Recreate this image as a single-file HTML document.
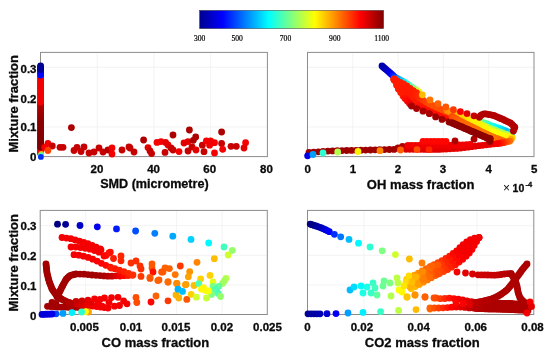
<!DOCTYPE html>
<html>
<head>
<meta charset="utf-8">
<title>Scatter plots</title>
<style>
html,body{margin:0;padding:0;background:#fff;}
body{width:550px;height:354px;overflow:hidden;}
svg{display:block;filter:blur(0.55px);}
text{font-family:"Liberation Sans",Arial,sans-serif;font-weight:bold;fill:#0a0a0a;stroke:#0a0a0a;stroke-width:0.3px;}
.tk{font-size:11.5px;}
.lb{font-size:13px;}
.cb{font-family:"Liberation Serif","Times New Roman",serif;font-weight:normal;font-size:7.6px;fill:#000;stroke:#000;stroke-width:0.2px;}
.ax{fill:none;stroke:#8c8c8c;stroke-width:1;}
.gr{stroke:#f0f0f0;stroke-width:0.8;fill:none;}
</style>
</head>
<body>
<svg width="550" height="354" viewBox="0 0 550 354">
<defs>
<linearGradient id="jet" x1="0" y1="0" x2="1" y2="0">
<stop offset="0" stop-color="#00008f"/>
<stop offset="0.125" stop-color="#0000ff"/>
<stop offset="0.375" stop-color="#00ffff"/>
<stop offset="0.5" stop-color="#80ff80"/>
<stop offset="0.625" stop-color="#ffff00"/>
<stop offset="0.875" stop-color="#ff0000"/>
<stop offset="1" stop-color="#800000"/>
</linearGradient>
</defs>
<rect x="0" y="0" width="550" height="354" fill="#ffffff"/>
<!-- colorbar -->
<rect x="199.6" y="10.4" width="184" height="18.2" fill="url(#jet)" stroke="#333" stroke-width="0.5"/>
<text class="cb" x="199.7" y="40.8" text-anchor="middle">300</text>
<text class="cb" x="237.2" y="40.8" text-anchor="middle">500</text>
<text class="cb" x="285.5" y="40.8" text-anchor="middle">700</text>
<text class="cb" x="334.8" y="40.8" text-anchor="middle">900</text>
<text class="cb" x="381.7" y="40.8" text-anchor="middle">1100</text>

<!-- grids -->
<g class="gr">
<path d="M97.3 52.4V156.6M154 52.4V156.6M210.6 52.4V156.6M40.5 67.3H267.4M40.5 126.9H267.4"/>
<path d="M352.8 52.4V156.6M398.1 52.4V156.6M443.4 52.4V156.6M488.7 52.4V156.6M307.5 67.3H534M307.5 126.9H534"/>
<path d="M85.6 210V314.5M131.1 210V314.5M176.6 210V314.5M222.1 210V314.5M40.2 225.7H267.4M40.2 255.3H267.4M40.2 284.9H267.4"/>
<path d="M364 210V314.5M420.5 210V314.5M477 210V314.5M307.5 225.7H533.6M307.5 255.3H533.6M307.5 284.9H533.6"/>
</g>
<!-- axes -->
<rect class="ax" x="40.5" y="52.4" width="226.9" height="104.2"/>
<rect class="ax" x="307.5" y="52.4" width="226.5" height="104.2"/>
<rect class="ax" x="40.2" y="210.4" width="227.1" height="104.1"/>
<rect class="ax" x="307.5" y="210.4" width="226.3" height="104.1"/>

<!-- dots -->
<g>
<circle cx="47.9" cy="143.5" r="3.4" fill="#f50000"/>
<circle cx="52.3" cy="146.0" r="3.4" fill="#c70000"/>
<circle cx="60.0" cy="147.3" r="3.4" fill="#c70000"/>
<circle cx="63.0" cy="147.3" r="3.4" fill="#c70000"/>
<circle cx="71.4" cy="127.6" r="3.4" fill="#ad0000"/>
<circle cx="74.0" cy="150.5" r="3.4" fill="#c70000"/>
<circle cx="77.0" cy="147.3" r="3.4" fill="#c70000"/>
<circle cx="81.0" cy="151.5" r="3.4" fill="#c70000"/>
<circle cx="84.0" cy="147.0" r="3.4" fill="#c70000"/>
<circle cx="89.0" cy="153.0" r="3.4" fill="#c70000"/>
<circle cx="94.0" cy="152.0" r="3.4" fill="#c70000"/>
<circle cx="99.0" cy="148.0" r="3.4" fill="#c70000"/>
<circle cx="103.0" cy="152.0" r="3.4" fill="#c70000"/>
<circle cx="108.0" cy="150.0" r="3.4" fill="#b30000"/>
<circle cx="112.0" cy="148.0" r="3.4" fill="#f50000"/>
<circle cx="112.0" cy="154.0" r="3.4" fill="#f50000"/>
<circle cx="122.0" cy="150.0" r="3.4" fill="#c70000"/>
<circle cx="129.0" cy="147.0" r="3.4" fill="#c70000"/>
<circle cx="134.0" cy="152.0" r="3.4" fill="#c70000"/>
<circle cx="130.0" cy="148.0" r="3.4" fill="#c70000"/>
<circle cx="143.6" cy="140.0" r="3.4" fill="#ad0000"/>
<circle cx="148.0" cy="147.6" r="3.4" fill="#e50000"/>
<circle cx="150.0" cy="151.0" r="3.4" fill="#c70000"/>
<circle cx="151.6" cy="153.6" r="3.4" fill="#c70000"/>
<circle cx="157.0" cy="142.4" r="3.4" fill="#f50000"/>
<circle cx="161.0" cy="141.6" r="3.4" fill="#f50000"/>
<circle cx="165.6" cy="142.4" r="3.4" fill="#e50000"/>
<circle cx="168.0" cy="145.0" r="3.4" fill="#e50000"/>
<circle cx="165.0" cy="152.4" r="3.4" fill="#c70000"/>
<circle cx="173.0" cy="150.0" r="3.4" fill="#c70000"/>
<circle cx="171.0" cy="148.0" r="3.4" fill="#c70000"/>
<circle cx="173.0" cy="135.0" r="3.4" fill="#ad0000"/>
<circle cx="179.0" cy="151.6" r="3.4" fill="#f50000"/>
<circle cx="184.0" cy="143.0" r="3.4" fill="#e50000"/>
<circle cx="188.0" cy="141.6" r="3.4" fill="#e50000"/>
<circle cx="189.4" cy="130.0" r="3.4" fill="#ad0000"/>
<circle cx="188.0" cy="151.0" r="3.4" fill="#c70000"/>
<circle cx="192.0" cy="147.0" r="3.4" fill="#c70000"/>
<circle cx="196.0" cy="150.0" r="3.4" fill="#e50000"/>
<circle cx="195.7" cy="137.0" r="3.4" fill="#ad0000"/>
<circle cx="193.3" cy="140.3" r="3.4" fill="#ad0000"/>
<circle cx="202.3" cy="145.2" r="3.4" fill="#c70000"/>
<circle cx="204.0" cy="151.7" r="3.4" fill="#c70000"/>
<circle cx="206.4" cy="141.0" r="3.4" fill="#f50000"/>
<circle cx="210.5" cy="141.0" r="3.4" fill="#f50000"/>
<circle cx="214.5" cy="142.7" r="3.4" fill="#f50000"/>
<circle cx="209.6" cy="145.2" r="3.4" fill="#f50000"/>
<circle cx="214.5" cy="152.9" r="3.4" fill="#f50000"/>
<circle cx="221.6" cy="132.0" r="3.4" fill="#ad0000"/>
<circle cx="221.6" cy="143.5" r="3.4" fill="#c70000"/>
<circle cx="222.7" cy="149.3" r="3.4" fill="#f50000"/>
<circle cx="231.0" cy="146.3" r="3.4" fill="#c70000"/>
<circle cx="236.3" cy="146.3" r="3.4" fill="#c70000"/>
<circle cx="245.6" cy="142.7" r="3.4" fill="#f50000"/>
<circle cx="244.0" cy="148.0" r="3.4" fill="#e50000"/>
<circle cx="40.6" cy="148.0" r="3.4" fill="#f50000"/>
<circle cx="40.6" cy="149.3" r="3.4" fill="#f50000"/>
<circle cx="40.6" cy="150.7" r="3.4" fill="#f50000"/>
<circle cx="40.6" cy="152.1" r="3.4" fill="#f50000"/>
<circle cx="40.6" cy="153.4" r="3.4" fill="#f50000"/>
<circle cx="40.6" cy="103.0" r="3.4" fill="#bd0000"/>
<circle cx="40.6" cy="104.5" r="3.4" fill="#b90000"/>
<circle cx="40.6" cy="106.0" r="3.4" fill="#b50000"/>
<circle cx="40.6" cy="107.6" r="3.4" fill="#b20000"/>
<circle cx="40.6" cy="109.1" r="3.4" fill="#ae0000"/>
<circle cx="40.6" cy="110.6" r="3.4" fill="#aa0000"/>
<circle cx="40.6" cy="112.1" r="3.4" fill="#a70000"/>
<circle cx="40.6" cy="113.6" r="3.4" fill="#a30000"/>
<circle cx="40.6" cy="115.1" r="3.4" fill="#9f0000"/>
<circle cx="40.6" cy="116.7" r="3.4" fill="#9c0000"/>
<circle cx="40.6" cy="118.2" r="3.4" fill="#980000"/>
<circle cx="40.6" cy="119.7" r="3.4" fill="#940000"/>
<circle cx="40.6" cy="121.2" r="3.4" fill="#900000"/>
<circle cx="40.6" cy="122.7" r="3.4" fill="#8d0000"/>
<circle cx="40.6" cy="124.2" r="3.4" fill="#8a0000"/>
<circle cx="40.6" cy="125.8" r="3.4" fill="#890000"/>
<circle cx="40.6" cy="127.3" r="3.4" fill="#880000"/>
<circle cx="40.6" cy="128.8" r="3.4" fill="#880000"/>
<circle cx="40.6" cy="130.3" r="3.4" fill="#870000"/>
<circle cx="40.6" cy="131.8" r="3.4" fill="#860000"/>
<circle cx="40.6" cy="133.3" r="3.4" fill="#860000"/>
<circle cx="40.6" cy="134.9" r="3.4" fill="#850000"/>
<circle cx="40.6" cy="136.4" r="3.4" fill="#840000"/>
<circle cx="40.6" cy="137.9" r="3.4" fill="#840000"/>
<circle cx="40.6" cy="139.4" r="3.4" fill="#830000"/>
<circle cx="40.6" cy="140.9" r="3.4" fill="#820000"/>
<circle cx="40.6" cy="142.4" r="3.4" fill="#820000"/>
<circle cx="40.6" cy="144.0" r="3.4" fill="#810000"/>
<circle cx="40.6" cy="145.5" r="3.4" fill="#800000"/>
<circle cx="40.6" cy="147.0" r="3.4" fill="#800000"/>
<circle cx="40.6" cy="77.0" r="3.4" fill="#f50000"/>
<circle cx="40.6" cy="78.5" r="3.4" fill="#f50000"/>
<circle cx="40.6" cy="79.9" r="3.4" fill="#f50000"/>
<circle cx="40.6" cy="81.4" r="3.4" fill="#f50000"/>
<circle cx="40.6" cy="82.9" r="3.4" fill="#f50000"/>
<circle cx="40.6" cy="84.4" r="3.4" fill="#f50000"/>
<circle cx="40.6" cy="85.8" r="3.4" fill="#f50000"/>
<circle cx="40.6" cy="87.3" r="3.4" fill="#f50000"/>
<circle cx="40.6" cy="88.8" r="3.4" fill="#f50000"/>
<circle cx="40.6" cy="90.2" r="3.4" fill="#f50000"/>
<circle cx="40.6" cy="91.7" r="3.4" fill="#f50000"/>
<circle cx="40.6" cy="93.2" r="3.4" fill="#f50000"/>
<circle cx="40.6" cy="94.6" r="3.4" fill="#f50000"/>
<circle cx="40.6" cy="96.1" r="3.4" fill="#f50000"/>
<circle cx="40.6" cy="97.6" r="3.4" fill="#f50000"/>
<circle cx="40.6" cy="99.1" r="3.4" fill="#f50000"/>
<circle cx="40.6" cy="100.5" r="3.4" fill="#f50000"/>
<circle cx="40.6" cy="102.0" r="3.4" fill="#f50000"/>
<circle cx="40.6" cy="70.5" r="3.4" fill="#0000e6"/>
<circle cx="40.6" cy="72.0" r="3.4" fill="#0000f0"/>
<circle cx="40.6" cy="73.5" r="3.4" fill="#0000fa"/>
<circle cx="40.6" cy="75.0" r="3.4" fill="#0005ff"/>
<circle cx="40.6" cy="65.8" r="3.4" fill="#000080"/>
<circle cx="40.6" cy="67.0" r="3.4" fill="#00008a"/>
<circle cx="40.6" cy="68.3" r="3.4" fill="#000094"/>
<circle cx="40.6" cy="69.5" r="3.4" fill="#00009e"/>
<circle cx="44.7" cy="147.3" r="3.4" fill="#f50000"/>
<circle cx="47.9" cy="150.5" r="3.4" fill="#ff4200"/>
<circle cx="41.3" cy="153.8" r="2.9" fill="#ffb300"/>
<circle cx="41.0" cy="155.2" r="2.9" fill="#4dffb2"/>
<circle cx="40.9" cy="156.9" r="2.9" fill="#002eff"/>
<circle cx="309.0" cy="152.5" r="3.4" fill="#9e0000"/>
<circle cx="313.7" cy="152.1" r="3.4" fill="#9e0000"/>
<circle cx="318.4" cy="151.8" r="3.4" fill="#9e0000"/>
<circle cx="323.1" cy="151.4" r="3.4" fill="#9e0000"/>
<circle cx="327.9" cy="151.1" r="3.4" fill="#9e0000"/>
<circle cx="332.6" cy="150.9" r="3.4" fill="#9e0000"/>
<circle cx="337.3" cy="150.7" r="3.4" fill="#9e0000"/>
<circle cx="342.0" cy="150.6" r="3.4" fill="#9e0000"/>
<circle cx="346.7" cy="150.5" r="3.4" fill="#9e0000"/>
<circle cx="351.5" cy="150.4" r="3.4" fill="#9e0000"/>
<circle cx="356.2" cy="150.3" r="3.4" fill="#9e0000"/>
<circle cx="360.9" cy="150.2" r="3.4" fill="#9e0000"/>
<circle cx="365.6" cy="150.1" r="3.4" fill="#9e0000"/>
<circle cx="370.4" cy="150.0" r="3.4" fill="#9e0000"/>
<circle cx="375.1" cy="149.8" r="3.4" fill="#9e0000"/>
<circle cx="379.8" cy="149.7" r="3.4" fill="#9e0000"/>
<circle cx="384.5" cy="149.6" r="3.4" fill="#9e0000"/>
<circle cx="389.3" cy="149.5" r="3.4" fill="#9e0000"/>
<circle cx="394.0" cy="149.4" r="3.4" fill="#9e0000"/>
<circle cx="398.0" cy="148.0" r="3.4" fill="#ad0000"/>
<circle cx="402.5" cy="146.3" r="3.4" fill="#ad0000"/>
<circle cx="407.2" cy="146.3" r="3.4" fill="#ad0000"/>
<circle cx="412.0" cy="147.0" r="3.4" fill="#ad0000"/>
<circle cx="406.0" cy="149.3" r="3.4" fill="#db0000"/>
<circle cx="409.7" cy="149.3" r="3.4" fill="#dc0000"/>
<circle cx="413.3" cy="149.3" r="3.4" fill="#dd0000"/>
<circle cx="417.0" cy="149.3" r="3.4" fill="#df0000"/>
<circle cx="420.6" cy="149.3" r="3.4" fill="#e00000"/>
<circle cx="424.3" cy="149.4" r="3.4" fill="#e10000"/>
<circle cx="427.9" cy="149.4" r="3.4" fill="#e20000"/>
<circle cx="431.6" cy="149.4" r="3.4" fill="#e30000"/>
<circle cx="435.2" cy="149.4" r="3.4" fill="#e40000"/>
<circle cx="438.9" cy="149.4" r="3.4" fill="#e50000"/>
<circle cx="442.5" cy="149.2" r="3.4" fill="#e50000"/>
<circle cx="446.2" cy="149.0" r="3.4" fill="#e50000"/>
<circle cx="449.8" cy="148.8" r="3.4" fill="#e50000"/>
<circle cx="453.5" cy="148.6" r="3.4" fill="#e50000"/>
<circle cx="457.1" cy="148.4" r="3.4" fill="#e50000"/>
<circle cx="460.8" cy="148.1" r="3.4" fill="#e50000"/>
<circle cx="464.4" cy="147.6" r="3.4" fill="#e50000"/>
<circle cx="468.0" cy="147.2" r="3.4" fill="#e50000"/>
<circle cx="471.6" cy="146.7" r="3.4" fill="#e50000"/>
<circle cx="475.2" cy="146.2" r="3.4" fill="#e50000"/>
<circle cx="478.9" cy="145.7" r="3.4" fill="#e50000"/>
<circle cx="482.5" cy="145.3" r="3.4" fill="#e70000"/>
<circle cx="486.1" cy="144.8" r="3.4" fill="#e90000"/>
<circle cx="489.7" cy="144.4" r="3.4" fill="#eb0000"/>
<circle cx="493.4" cy="143.9" r="3.4" fill="#ee0000"/>
<circle cx="497.0" cy="143.5" r="3.4" fill="#f00000"/>
<circle cx="408.0" cy="145.3" r="3.4" fill="#f00000"/>
<circle cx="411.6" cy="145.3" r="3.4" fill="#f00000"/>
<circle cx="415.3" cy="145.3" r="3.4" fill="#f00000"/>
<circle cx="418.9" cy="145.3" r="3.4" fill="#f00000"/>
<circle cx="422.6" cy="145.3" r="3.4" fill="#f00000"/>
<circle cx="426.2" cy="145.3" r="3.4" fill="#f00000"/>
<circle cx="429.9" cy="145.3" r="3.4" fill="#f00000"/>
<circle cx="433.5" cy="145.2" r="3.4" fill="#f00000"/>
<circle cx="437.2" cy="145.2" r="3.4" fill="#f00000"/>
<circle cx="440.8" cy="145.2" r="3.4" fill="#f00000"/>
<circle cx="444.5" cy="145.2" r="3.4" fill="#f00000"/>
<circle cx="448.1" cy="145.2" r="3.4" fill="#f00000"/>
<circle cx="451.8" cy="145.2" r="3.4" fill="#f00000"/>
<circle cx="455.4" cy="145.1" r="3.4" fill="#f00000"/>
<circle cx="459.1" cy="144.9" r="3.4" fill="#f00000"/>
<circle cx="462.7" cy="144.8" r="3.4" fill="#f00000"/>
<circle cx="466.4" cy="144.6" r="3.4" fill="#f00000"/>
<circle cx="470.0" cy="144.5" r="3.4" fill="#f00000"/>
<circle cx="423.0" cy="141.3" r="3.4" fill="#ff0500"/>
<circle cx="426.8" cy="141.3" r="3.4" fill="#ff0500"/>
<circle cx="430.7" cy="141.3" r="3.4" fill="#ff0500"/>
<circle cx="434.5" cy="141.3" r="3.4" fill="#ff0500"/>
<circle cx="438.3" cy="141.3" r="3.4" fill="#ff0500"/>
<circle cx="442.2" cy="141.3" r="3.4" fill="#ff0500"/>
<circle cx="446.0" cy="141.3" r="3.4" fill="#ff0500"/>
<circle cx="455.0" cy="141.0" r="3.4" fill="#ad0000"/>
<circle cx="474.0" cy="139.2" r="3.4" fill="#ad0000"/>
<circle cx="307.6" cy="155.8" r="3.4" fill="#0000e6"/>
<circle cx="313.0" cy="154.5" r="3.4" fill="#009eff"/>
<circle cx="323.0" cy="153.0" r="3.4" fill="#2effd1"/>
<circle cx="337.7" cy="152.0" r="3.4" fill="#b3ff4c"/>
<circle cx="358.0" cy="151.5" r="3.4" fill="#fff000"/>
<circle cx="380.0" cy="150.7" r="3.4" fill="#ff8a00"/>
<circle cx="400.5" cy="150.0" r="3.4" fill="#ff6100"/>
<circle cx="417.0" cy="149.6" r="3.4" fill="#ff4c00"/>
<circle cx="429.0" cy="149.6" r="3.4" fill="#ff2400"/>
<circle cx="382.0" cy="66.0" r="3.4" fill="#0000a8"/>
<circle cx="383.4" cy="67.2" r="3.4" fill="#0000ae"/>
<circle cx="384.8" cy="68.4" r="3.4" fill="#0000b4"/>
<circle cx="386.2" cy="69.6" r="3.4" fill="#0000b9"/>
<circle cx="387.6" cy="70.8" r="3.4" fill="#0000c3"/>
<circle cx="388.9" cy="72.0" r="3.4" fill="#0000d3"/>
<circle cx="390.3" cy="73.2" r="3.4" fill="#0000e2"/>
<circle cx="391.7" cy="74.4" r="3.4" fill="#0000f4"/>
<circle cx="393.1" cy="75.6" r="3.4" fill="#0017ff"/>
<circle cx="394.5" cy="76.8" r="3.4" fill="#0038ff"/>
<circle cx="397.0" cy="78.3" r="3.4" fill="#0080ff"/>
<circle cx="399.5" cy="79.7" r="3.4" fill="#00a9ff"/>
<circle cx="402.1" cy="81.0" r="3.4" fill="#00d2ff"/>
<circle cx="404.6" cy="82.4" r="3.4" fill="#00f2ff"/>
<circle cx="407.1" cy="83.9" r="3.4" fill="#16ffe9"/>
<circle cx="409.4" cy="85.5" r="3.4" fill="#3dffc2"/>
<circle cx="411.8" cy="87.2" r="3.4" fill="#66ff99"/>
<circle cx="414.2" cy="88.8" r="3.4" fill="#92ff6d"/>
<circle cx="416.6" cy="90.4" r="3.4" fill="#bdff42"/>
<circle cx="419.0" cy="92.0" r="3.4" fill="#e5ff1a"/>
<circle cx="394.0" cy="79.7" r="3.4" fill="#ff1a00"/>
<circle cx="397.2" cy="85.5" r="3.4" fill="#ff1a00"/>
<circle cx="400.4" cy="89.8" r="3.4" fill="#ff1a00"/>
<circle cx="403.6" cy="93.4" r="3.4" fill="#ff1a00"/>
<circle cx="406.8" cy="96.6" r="3.4" fill="#ff1a00"/>
<circle cx="410.0" cy="100.2" r="3.4" fill="#ff1a00"/>
<circle cx="413.2" cy="102.8" r="3.4" fill="#ff1a00"/>
<circle cx="416.4" cy="104.5" r="3.4" fill="#ff1000"/>
<circle cx="419.6" cy="106.1" r="3.4" fill="#ff0400"/>
<circle cx="422.8" cy="107.6" r="3.4" fill="#f70000"/>
<circle cx="426.0" cy="109.0" r="3.4" fill="#eb0000"/>
<circle cx="429.2" cy="110.5" r="3.4" fill="#de0000"/>
<circle cx="432.4" cy="112.1" r="3.4" fill="#db0000"/>
<circle cx="435.6" cy="113.7" r="3.4" fill="#db0000"/>
<circle cx="438.8" cy="115.0" r="3.4" fill="#db0000"/>
<circle cx="442.0" cy="116.3" r="3.4" fill="#db0000"/>
<circle cx="445.2" cy="117.5" r="3.4" fill="#db0000"/>
<circle cx="448.4" cy="118.7" r="3.4" fill="#db0000"/>
<circle cx="451.6" cy="119.7" r="3.4" fill="#db0000"/>
<circle cx="394.0" cy="79.3" r="3.4" fill="#ff1a00"/>
<circle cx="397.2" cy="83.7" r="3.4" fill="#ff1a00"/>
<circle cx="400.4" cy="87.0" r="3.4" fill="#ff1a00"/>
<circle cx="403.6" cy="90.0" r="3.4" fill="#ff1a00"/>
<circle cx="406.8" cy="92.8" r="3.4" fill="#ff1a00"/>
<circle cx="410.0" cy="96.0" r="3.4" fill="#ff1a00"/>
<circle cx="413.2" cy="98.4" r="3.4" fill="#ff1a00"/>
<circle cx="416.4" cy="100.3" r="3.4" fill="#ff1800"/>
<circle cx="419.6" cy="102.1" r="3.4" fill="#ff1600"/>
<circle cx="422.8" cy="103.8" r="3.4" fill="#ff1400"/>
<circle cx="426.0" cy="105.5" r="3.4" fill="#ff1200"/>
<circle cx="429.2" cy="107.1" r="3.4" fill="#ff1000"/>
<circle cx="432.4" cy="108.8" r="3.4" fill="#ff0f00"/>
<circle cx="435.6" cy="110.4" r="3.4" fill="#ff0f00"/>
<circle cx="438.8" cy="111.7" r="3.4" fill="#ff0f00"/>
<circle cx="442.0" cy="113.0" r="3.4" fill="#ff0f00"/>
<circle cx="445.2" cy="114.2" r="3.4" fill="#ff0f00"/>
<circle cx="448.4" cy="115.4" r="3.4" fill="#ff0f00"/>
<circle cx="451.6" cy="116.5" r="3.4" fill="#ff0f00"/>
<circle cx="394.0" cy="79.0" r="3.4" fill="#ff1a00"/>
<circle cx="397.2" cy="82.0" r="3.4" fill="#ff1a00"/>
<circle cx="400.4" cy="84.3" r="3.4" fill="#ff1a00"/>
<circle cx="403.6" cy="86.6" r="3.4" fill="#ff1a00"/>
<circle cx="406.8" cy="89.0" r="3.4" fill="#ff1a00"/>
<circle cx="410.0" cy="91.8" r="3.4" fill="#ff1a00"/>
<circle cx="413.2" cy="94.1" r="3.4" fill="#ff1a00"/>
<circle cx="416.4" cy="96.1" r="3.4" fill="#ff2100"/>
<circle cx="419.6" cy="98.1" r="3.4" fill="#ff2b00"/>
<circle cx="422.8" cy="100.1" r="3.4" fill="#ff3600"/>
<circle cx="426.0" cy="102.0" r="3.4" fill="#ff4000"/>
<circle cx="429.2" cy="103.8" r="3.4" fill="#ff4a00"/>
<circle cx="432.4" cy="105.5" r="3.4" fill="#ff4c00"/>
<circle cx="435.6" cy="107.0" r="3.4" fill="#ff4c00"/>
<circle cx="438.8" cy="108.4" r="3.4" fill="#ff4c00"/>
<circle cx="442.0" cy="109.7" r="3.4" fill="#ff4c00"/>
<circle cx="445.2" cy="111.0" r="3.4" fill="#ff4c00"/>
<circle cx="448.4" cy="112.2" r="3.4" fill="#ff4c00"/>
<circle cx="451.6" cy="113.3" r="3.4" fill="#ff4c00"/>
<circle cx="394.0" cy="79.2" r="3.4" fill="#ff1a00"/>
<circle cx="397.2" cy="80.9" r="3.4" fill="#ff1a00"/>
<circle cx="400.4" cy="82.3" r="3.4" fill="#ff1a00"/>
<circle cx="403.6" cy="84.0" r="3.4" fill="#ff1a00"/>
<circle cx="406.8" cy="86.0" r="3.4" fill="#ff1a00"/>
<circle cx="410.0" cy="88.3" r="3.4" fill="#ff1a00"/>
<circle cx="413.2" cy="90.6" r="3.4" fill="#ff1a00"/>
<circle cx="416.4" cy="92.7" r="3.4" fill="#ff2100"/>
<circle cx="419.6" cy="94.9" r="3.4" fill="#ff2b00"/>
<circle cx="394.5" cy="80.5" r="3.4" fill="#ff1a00"/>
<circle cx="396.5" cy="85.0" r="3.4" fill="#ff1a00"/>
<circle cx="398.3" cy="89.0" r="3.4" fill="#ff1a00"/>
<circle cx="400.7" cy="92.6" r="3.4" fill="#ff1a00"/>
<circle cx="403.0" cy="96.0" r="3.4" fill="#ff1a00"/>
<circle cx="405.0" cy="98.5" r="3.4" fill="#ff0f00"/>
<circle cx="407.3" cy="101.0" r="3.4" fill="#ff0500"/>
<circle cx="409.5" cy="103.5" r="3.4" fill="#f00000"/>
<circle cx="411.5" cy="106.0" r="3.4" fill="#a80000"/>
<circle cx="416.5" cy="108.6" r="3.4" fill="#a80000"/>
<circle cx="423.0" cy="111.2" r="3.4" fill="#a80000"/>
<circle cx="429.3" cy="113.7" r="3.4" fill="#a80000"/>
<circle cx="435.6" cy="116.9" r="3.4" fill="#9e0000"/>
<circle cx="442.0" cy="119.4" r="3.4" fill="#9e0000"/>
<circle cx="449.0" cy="122.0" r="3.4" fill="#940000"/>
<circle cx="456.0" cy="124.3" r="3.4" fill="#800000"/>
<circle cx="478.0" cy="120.8" r="3.4" fill="#bdff42"/>
<circle cx="480.3" cy="121.6" r="3.4" fill="#a0ff5f"/>
<circle cx="482.6" cy="122.3" r="3.4" fill="#83ff7c"/>
<circle cx="484.9" cy="123.1" r="3.4" fill="#66ff99"/>
<circle cx="487.1" cy="124.0" r="3.4" fill="#49ffb6"/>
<circle cx="489.3" cy="124.9" r="3.4" fill="#2cffd3"/>
<circle cx="491.6" cy="125.8" r="3.4" fill="#1bffe4"/>
<circle cx="493.9" cy="126.5" r="3.4" fill="#10ffef"/>
<circle cx="496.2" cy="127.3" r="3.4" fill="#04fffb"/>
<circle cx="498.5" cy="128.1" r="3.4" fill="#00f7ff"/>
<circle cx="500.8" cy="128.9" r="3.4" fill="#00ebff"/>
<circle cx="503.0" cy="129.8" r="3.4" fill="#00dcff"/>
<circle cx="505.2" cy="130.7" r="3.4" fill="#00ceff"/>
<circle cx="507.5" cy="131.7" r="3.4" fill="#00bfff"/>
<circle cx="509.5" cy="132.9" r="3.4" fill="#00cfff"/>
<circle cx="511.5" cy="134.3" r="3.4" fill="#00e5ff"/>
<circle cx="476.0" cy="122.6" r="3.4" fill="#e5ff1a"/>
<circle cx="478.2" cy="123.5" r="3.4" fill="#dfff20"/>
<circle cx="480.4" cy="124.4" r="3.4" fill="#d9ff26"/>
<circle cx="482.5" cy="125.3" r="3.4" fill="#d2ff2d"/>
<circle cx="484.7" cy="126.2" r="3.4" fill="#ccff33"/>
<circle cx="486.9" cy="127.1" r="3.4" fill="#c6ff39"/>
<circle cx="489.1" cy="128.0" r="3.4" fill="#bfff40"/>
<circle cx="491.3" cy="128.9" r="3.4" fill="#baff45"/>
<circle cx="493.5" cy="129.7" r="3.4" fill="#b6ff49"/>
<circle cx="495.7" cy="130.5" r="3.4" fill="#b1ff4e"/>
<circle cx="498.0" cy="131.3" r="3.4" fill="#acff53"/>
<circle cx="500.2" cy="132.1" r="3.4" fill="#a9ff56"/>
<circle cx="502.4" cy="132.9" r="3.4" fill="#aeff51"/>
<circle cx="504.6" cy="133.8" r="3.4" fill="#b3ff4c"/>
<circle cx="506.8" cy="134.6" r="3.4" fill="#b8ff47"/>
<circle cx="509.0" cy="135.5" r="3.4" fill="#bdff42"/>
<circle cx="447.0" cy="110.5" r="3.4" fill="#ff8a00"/>
<circle cx="449.3" cy="111.5" r="3.4" fill="#ff9200"/>
<circle cx="451.6" cy="112.4" r="3.4" fill="#ff9a00"/>
<circle cx="453.9" cy="113.3" r="3.4" fill="#ffa300"/>
<circle cx="456.3" cy="114.1" r="3.4" fill="#ffaf00"/>
<circle cx="458.6" cy="114.9" r="3.4" fill="#ffbb00"/>
<circle cx="461.0" cy="115.6" r="3.4" fill="#ffc300"/>
<circle cx="463.4" cy="116.3" r="3.4" fill="#ffcc00"/>
<circle cx="465.7" cy="117.1" r="3.4" fill="#ffd400"/>
<circle cx="468.0" cy="118.1" r="3.4" fill="#ffdc00"/>
<circle cx="470.3" cy="119.1" r="3.4" fill="#ffe500"/>
<circle cx="472.5" cy="120.2" r="3.4" fill="#ffea00"/>
<circle cx="474.8" cy="121.2" r="3.4" fill="#ffef00"/>
<circle cx="476.8" cy="122.7" r="3.4" fill="#fff000"/>
<circle cx="478.7" cy="124.2" r="3.4" fill="#fff000"/>
<circle cx="480.8" cy="125.6" r="3.4" fill="#fff000"/>
<circle cx="482.9" cy="126.8" r="3.4" fill="#fff300"/>
<circle cx="485.1" cy="128.0" r="3.4" fill="#fff500"/>
<circle cx="487.3" cy="129.2" r="3.4" fill="#fff700"/>
<circle cx="489.5" cy="130.3" r="3.4" fill="#fff900"/>
<circle cx="491.8" cy="131.3" r="3.4" fill="#fffb00"/>
<circle cx="494.1" cy="132.2" r="3.4" fill="#fffe00"/>
<circle cx="496.4" cy="133.0" r="3.4" fill="#feff01"/>
<circle cx="498.8" cy="133.9" r="3.4" fill="#fcff03"/>
<circle cx="501.1" cy="134.8" r="3.4" fill="#faff05"/>
<circle cx="503.4" cy="135.6" r="3.4" fill="#feff01"/>
<circle cx="505.8" cy="136.4" r="3.4" fill="#fffa00"/>
<circle cx="508.1" cy="137.2" r="3.4" fill="#fff500"/>
<circle cx="510.5" cy="138.0" r="3.4" fill="#fff000"/>
<circle cx="452.0" cy="116.5" r="3.4" fill="#ff4c00"/>
<circle cx="454.2" cy="117.8" r="3.4" fill="#ff5200"/>
<circle cx="456.5" cy="119.0" r="3.4" fill="#ff5800"/>
<circle cx="458.7" cy="120.3" r="3.4" fill="#ff5e00"/>
<circle cx="461.0" cy="121.5" r="3.4" fill="#ff6200"/>
<circle cx="463.3" cy="122.6" r="3.4" fill="#ff6400"/>
<circle cx="465.6" cy="123.8" r="3.4" fill="#ff6700"/>
<circle cx="467.9" cy="124.9" r="3.4" fill="#ff6900"/>
<circle cx="470.2" cy="126.1" r="3.4" fill="#ff6b00"/>
<circle cx="472.5" cy="127.2" r="3.4" fill="#ff6d00"/>
<circle cx="474.8" cy="128.4" r="3.4" fill="#ff6f00"/>
<circle cx="477.1" cy="129.5" r="3.4" fill="#ff7100"/>
<circle cx="479.4" cy="130.7" r="3.4" fill="#ff7300"/>
<circle cx="481.7" cy="131.8" r="3.4" fill="#ff7500"/>
<circle cx="484.0" cy="132.9" r="3.4" fill="#ff7500"/>
<circle cx="486.4" cy="134.0" r="3.4" fill="#ff7500"/>
<circle cx="488.7" cy="135.1" r="3.4" fill="#ff7500"/>
<circle cx="491.0" cy="136.1" r="3.4" fill="#ff7500"/>
<circle cx="493.4" cy="137.2" r="3.4" fill="#ff7500"/>
<circle cx="495.8" cy="138.1" r="3.4" fill="#ff7100"/>
<circle cx="498.2" cy="139.0" r="3.4" fill="#ff6c00"/>
<circle cx="500.6" cy="139.9" r="3.4" fill="#ff6600"/>
<circle cx="503.0" cy="140.8" r="3.4" fill="#ff6100"/>
<circle cx="512.3" cy="137.6" r="3.4" fill="#ffdb00"/>
<circle cx="511.1" cy="139.4" r="3.4" fill="#ffa500"/>
<circle cx="509.8" cy="141.1" r="3.4" fill="#ff7300"/>
<circle cx="507.7" cy="141.6" r="3.4" fill="#ff5d00"/>
<circle cx="505.6" cy="142.1" r="3.4" fill="#ff4800"/>
<circle cx="503.5" cy="142.7" r="3.4" fill="#ff3300"/>
<circle cx="501.3" cy="143.0" r="3.4" fill="#ff2000"/>
<circle cx="499.2" cy="143.3" r="3.4" fill="#ff0d00"/>
<circle cx="497.0" cy="143.6" r="3.4" fill="#fa0000"/>
<circle cx="452.0" cy="122.8" r="3.5" fill="#8f0000"/>
<circle cx="453.4" cy="123.4" r="3.5" fill="#8f0000"/>
<circle cx="454.9" cy="124.0" r="3.5" fill="#8f0000"/>
<circle cx="456.3" cy="124.7" r="3.5" fill="#8f0000"/>
<circle cx="457.8" cy="125.3" r="3.5" fill="#8f0000"/>
<circle cx="459.2" cy="125.9" r="3.5" fill="#8f0000"/>
<circle cx="460.7" cy="126.5" r="3.5" fill="#8f0000"/>
<circle cx="462.1" cy="127.1" r="3.5" fill="#8f0000"/>
<circle cx="463.6" cy="127.8" r="3.5" fill="#8f0000"/>
<circle cx="465.0" cy="128.4" r="3.5" fill="#8f0000"/>
<circle cx="466.5" cy="129.0" r="3.5" fill="#8f0000"/>
<circle cx="467.9" cy="129.6" r="3.5" fill="#8f0000"/>
<circle cx="469.4" cy="130.2" r="3.5" fill="#8f0000"/>
<circle cx="470.8" cy="130.9" r="3.5" fill="#8f0000"/>
<circle cx="472.2" cy="131.5" r="3.5" fill="#8f0000"/>
<circle cx="473.7" cy="132.1" r="3.5" fill="#8f0000"/>
<circle cx="475.1" cy="132.7" r="3.5" fill="#8f0000"/>
<circle cx="476.6" cy="133.3" r="3.5" fill="#8f0000"/>
<circle cx="478.0" cy="134.0" r="3.5" fill="#8f0000"/>
<circle cx="479.5" cy="134.6" r="3.5" fill="#8f0000"/>
<circle cx="480.9" cy="135.2" r="3.5" fill="#8f0000"/>
<circle cx="482.4" cy="135.8" r="3.5" fill="#8f0000"/>
<circle cx="483.8" cy="136.4" r="3.5" fill="#8f0000"/>
<circle cx="485.3" cy="137.0" r="3.5" fill="#8f0000"/>
<circle cx="486.7" cy="137.7" r="3.5" fill="#8f0000"/>
<circle cx="488.2" cy="138.3" r="3.5" fill="#8f0000"/>
<circle cx="489.6" cy="138.9" r="3.5" fill="#8f0000"/>
<circle cx="490.3" cy="138.6" r="3.4" fill="#8f0000"/>
<circle cx="490.1" cy="140.1" r="3.4" fill="#8f0000"/>
<circle cx="489.8" cy="141.6" r="3.4" fill="#8f0000"/>
<circle cx="422.3" cy="94.8" r="3.4" fill="#ffbd00"/>
<circle cx="430.0" cy="99.9" r="3.4" fill="#ff7500"/>
<circle cx="438.0" cy="103.7" r="3.4" fill="#ff6100"/>
<circle cx="445.8" cy="106.9" r="3.4" fill="#ff5700"/>
<circle cx="453.4" cy="109.7" r="3.4" fill="#ff3800"/>
<circle cx="460.4" cy="111.6" r="3.4" fill="#fa0000"/>
<circle cx="467.0" cy="113.6" r="3.4" fill="#e50000"/>
<circle cx="474.0" cy="115.8" r="3.4" fill="#c70000"/>
<circle cx="479.3" cy="117.3" r="3.4" fill="#b30000"/>
<circle cx="480.5" cy="115.7" r="3.4" fill="#b30000"/>
<circle cx="482.1" cy="114.6" r="3.4" fill="#b30000"/>
<circle cx="484.0" cy="113.9" r="3.4" fill="#b30000"/>
<circle cx="486.0" cy="113.8" r="3.4" fill="#b30000"/>
<circle cx="487.9" cy="114.3" r="3.4" fill="#b30000"/>
<circle cx="489.9" cy="114.7" r="3.4" fill="#b30000"/>
<circle cx="491.9" cy="115.1" r="3.4" fill="#b30000"/>
<circle cx="493.9" cy="115.5" r="3.4" fill="#b30000"/>
<circle cx="495.7" cy="116.3" r="3.4" fill="#b30000"/>
<circle cx="497.6" cy="117.1" r="3.4" fill="#b30000"/>
<circle cx="499.5" cy="117.9" r="3.4" fill="#b30000"/>
<circle cx="501.3" cy="118.7" r="3.4" fill="#b30000"/>
<circle cx="503.2" cy="119.5" r="3.4" fill="#b30000"/>
<circle cx="505.0" cy="120.4" r="3.4" fill="#b30000"/>
<circle cx="506.8" cy="121.3" r="3.4" fill="#b30000"/>
<circle cx="508.6" cy="122.1" r="3.4" fill="#b30000"/>
<circle cx="510.4" cy="123.0" r="3.4" fill="#b30000"/>
<circle cx="512.0" cy="124.3" r="3.4" fill="#b30000"/>
<circle cx="513.4" cy="125.8" r="3.4" fill="#b30000"/>
<circle cx="514.8" cy="127.2" r="3.4" fill="#b30000"/>
<circle cx="514.1" cy="129.1" r="3.4" fill="#b30000"/>
<circle cx="513.4" cy="131.0" r="3.4" fill="#b30000"/>
<circle cx="47.5" cy="306.3" r="3.4" fill="#a30000"/>
<circle cx="50.9" cy="306.5" r="3.4" fill="#a30000"/>
<circle cx="54.4" cy="306.8" r="3.4" fill="#a30000"/>
<circle cx="57.8" cy="307.0" r="3.4" fill="#a30000"/>
<circle cx="61.3" cy="307.2" r="3.4" fill="#a40000"/>
<circle cx="64.7" cy="307.2" r="3.4" fill="#a60000"/>
<circle cx="68.2" cy="307.3" r="3.4" fill="#a90000"/>
<circle cx="71.6" cy="307.3" r="3.4" fill="#ab0000"/>
<circle cx="75.1" cy="307.3" r="3.4" fill="#ae0000"/>
<circle cx="78.5" cy="307.4" r="3.4" fill="#b00000"/>
<circle cx="82.0" cy="307.4" r="3.4" fill="#b30000"/>
<circle cx="52.0" cy="302.5" r="3.4" fill="#a30000"/>
<circle cx="56.0" cy="303.5" r="3.4" fill="#a30000"/>
<circle cx="70.0" cy="303.0" r="3.4" fill="#b30000"/>
<circle cx="73.8" cy="303.6" r="3.4" fill="#c10000"/>
<circle cx="77.6" cy="304.2" r="3.4" fill="#cf0000"/>
<circle cx="81.4" cy="304.7" r="3.4" fill="#da0000"/>
<circle cx="85.2" cy="305.2" r="3.4" fill="#e30000"/>
<circle cx="89.0" cy="305.7" r="3.4" fill="#eb0000"/>
<circle cx="92.8" cy="306.1" r="3.4" fill="#f20000"/>
<circle cx="96.6" cy="306.6" r="3.4" fill="#f50000"/>
<circle cx="100.4" cy="307.0" r="3.4" fill="#f50000"/>
<circle cx="104.2" cy="307.5" r="3.4" fill="#f50000"/>
<circle cx="108.0" cy="308.0" r="3.4" fill="#f50000"/>
<circle cx="76.0" cy="301.3" r="3.4" fill="#c70000"/>
<circle cx="82.0" cy="300.8" r="3.4" fill="#d10000"/>
<circle cx="88.0" cy="300.2" r="3.4" fill="#e50000"/>
<circle cx="91.0" cy="303.0" r="3.4" fill="#e50000"/>
<circle cx="94.5" cy="299.0" r="3.4" fill="#f50000"/>
<circle cx="98.0" cy="302.7" r="3.4" fill="#f50000"/>
<circle cx="102.0" cy="306.2" r="3.4" fill="#f50000"/>
<circle cx="104.5" cy="298.0" r="3.4" fill="#f50000"/>
<circle cx="109.0" cy="302.5" r="3.4" fill="#f50000"/>
<circle cx="114.5" cy="306.2" r="3.4" fill="#f50000"/>
<circle cx="100.0" cy="299.4" r="3.4" fill="#f50000"/>
<circle cx="111.5" cy="297.6" r="3.4" fill="#f50000"/>
<circle cx="118.0" cy="297.3" r="3.4" fill="#f50000"/>
<circle cx="123.6" cy="301.0" r="3.4" fill="#f50000"/>
<circle cx="127.0" cy="303.8" r="3.4" fill="#f50000"/>
<circle cx="119.5" cy="305.5" r="3.4" fill="#f50000"/>
<circle cx="136.0" cy="297.5" r="3.4" fill="#ff4c00"/>
<circle cx="136.8" cy="302.5" r="3.4" fill="#ff4c00"/>
<circle cx="151.0" cy="302.0" r="3.4" fill="#ff0500"/>
<circle cx="156.0" cy="296.0" r="3.4" fill="#ff6100"/>
<circle cx="168.0" cy="300.8" r="3.4" fill="#ff3800"/>
<circle cx="186.8" cy="299.4" r="3.4" fill="#ff5700"/>
<circle cx="46.0" cy="264.0" r="3.4" fill="#a30000"/>
<circle cx="46.2" cy="265.8" r="3.4" fill="#a30000"/>
<circle cx="46.4" cy="267.6" r="3.4" fill="#a30000"/>
<circle cx="46.6" cy="269.4" r="3.4" fill="#a30000"/>
<circle cx="46.8" cy="271.3" r="3.4" fill="#a30000"/>
<circle cx="47.0" cy="273.1" r="3.4" fill="#a30000"/>
<circle cx="47.5" cy="274.8" r="3.4" fill="#a30000"/>
<circle cx="47.9" cy="276.6" r="3.4" fill="#a30000"/>
<circle cx="48.3" cy="278.4" r="3.4" fill="#a30000"/>
<circle cx="48.8" cy="280.1" r="3.4" fill="#a30000"/>
<circle cx="49.3" cy="281.9" r="3.4" fill="#a30000"/>
<circle cx="50.0" cy="283.6" r="3.4" fill="#a30000"/>
<circle cx="50.6" cy="285.3" r="3.4" fill="#a30000"/>
<circle cx="51.3" cy="287.0" r="3.4" fill="#a30000"/>
<circle cx="51.9" cy="288.7" r="3.4" fill="#a30000"/>
<circle cx="52.9" cy="290.2" r="3.4" fill="#a30000"/>
<circle cx="53.9" cy="291.7" r="3.4" fill="#a30000"/>
<circle cx="55.0" cy="293.2" r="3.4" fill="#a30000"/>
<circle cx="56.1" cy="294.7" r="3.4" fill="#a30000"/>
<circle cx="57.2" cy="296.1" r="3.4" fill="#a30000"/>
<circle cx="58.7" cy="297.1" r="3.4" fill="#a30000"/>
<circle cx="60.2" cy="298.2" r="3.4" fill="#a30000"/>
<circle cx="61.7" cy="299.2" r="3.4" fill="#a30000"/>
<circle cx="63.3" cy="300.1" r="3.4" fill="#a40000"/>
<circle cx="65.0" cy="300.8" r="3.4" fill="#a80000"/>
<circle cx="66.6" cy="301.6" r="3.4" fill="#ab0000"/>
<circle cx="68.3" cy="302.3" r="3.4" fill="#af0000"/>
<circle cx="70.0" cy="303.0" r="3.4" fill="#b30000"/>
<circle cx="57.0" cy="297.0" r="3.4" fill="#a30000"/>
<circle cx="57.8" cy="295.3" r="3.4" fill="#a30000"/>
<circle cx="58.7" cy="293.7" r="3.4" fill="#a30000"/>
<circle cx="59.5" cy="292.0" r="3.4" fill="#a30000"/>
<circle cx="60.3" cy="290.4" r="3.4" fill="#a30000"/>
<circle cx="61.1" cy="288.7" r="3.4" fill="#a30000"/>
<circle cx="62.0" cy="287.0" r="3.4" fill="#a30000"/>
<circle cx="62.8" cy="285.4" r="3.4" fill="#a30000"/>
<circle cx="63.7" cy="283.8" r="3.4" fill="#a30000"/>
<circle cx="64.6" cy="282.1" r="3.4" fill="#a30000"/>
<circle cx="65.5" cy="280.5" r="3.4" fill="#a30000"/>
<circle cx="66.5" cy="279.0" r="3.4" fill="#a30000"/>
<circle cx="67.8" cy="277.7" r="3.4" fill="#a30000"/>
<circle cx="69.1" cy="276.4" r="3.4" fill="#a30000"/>
<circle cx="70.6" cy="275.3" r="3.4" fill="#a30000"/>
<circle cx="72.4" cy="274.9" r="3.4" fill="#a30000"/>
<circle cx="74.2" cy="274.4" r="3.4" fill="#a30000"/>
<circle cx="76.0" cy="274.0" r="3.4" fill="#a30000"/>
<circle cx="80.0" cy="274.1" r="3.4" fill="#a30000"/>
<circle cx="84.0" cy="274.2" r="3.4" fill="#a30000"/>
<circle cx="88.0" cy="274.6" r="3.4" fill="#a30000"/>
<circle cx="92.0" cy="275.0" r="3.4" fill="#a30000"/>
<circle cx="96.0" cy="275.3" r="3.4" fill="#a30000"/>
<circle cx="100.0" cy="275.6" r="3.4" fill="#a30000"/>
<circle cx="104.0" cy="275.9" r="3.4" fill="#ab0000"/>
<circle cx="108.0" cy="276.2" r="3.4" fill="#b30000"/>
<circle cx="112.0" cy="276.2" r="3.4" fill="#c70000"/>
<circle cx="116.0" cy="275.8" r="3.4" fill="#db0000"/>
<circle cx="120.0" cy="276.0" r="3.4" fill="#f50000"/>
<circle cx="124.0" cy="275.7" r="3.4" fill="#ff0700"/>
<circle cx="128.0" cy="275.5" r="3.4" fill="#ff1600"/>
<circle cx="132.0" cy="275.2" r="3.4" fill="#ff2400"/>
<circle cx="74.0" cy="254.7" r="3.4" fill="#f50000"/>
<circle cx="78.8" cy="255.2" r="3.4" fill="#f50000"/>
<circle cx="83.5" cy="256.2" r="3.4" fill="#f50000"/>
<circle cx="88.2" cy="257.4" r="3.4" fill="#f50000"/>
<circle cx="92.7" cy="259.2" r="3.4" fill="#f50000"/>
<circle cx="97.1" cy="261.1" r="3.4" fill="#f80000"/>
<circle cx="101.4" cy="263.3" r="3.4" fill="#ff0100"/>
<circle cx="105.8" cy="265.3" r="3.4" fill="#ff0800"/>
<circle cx="110.2" cy="267.1" r="3.4" fill="#ff0e00"/>
<circle cx="114.8" cy="268.7" r="3.4" fill="#ff1400"/>
<circle cx="119.3" cy="270.2" r="3.4" fill="#ff1b00"/>
<circle cx="123.9" cy="271.7" r="3.4" fill="#ff2100"/>
<circle cx="128.5" cy="273.3" r="3.4" fill="#ff2700"/>
<circle cx="133.0" cy="275.0" r="3.4" fill="#ff2e00"/>
<circle cx="141.0" cy="276.4" r="3.4" fill="#ff3800"/>
<circle cx="150.0" cy="278.4" r="3.4" fill="#ff4c00"/>
<circle cx="159.0" cy="280.0" r="3.4" fill="#ff5700"/>
<circle cx="168.0" cy="282.0" r="3.4" fill="#ff6100"/>
<circle cx="177.0" cy="283.4" r="3.4" fill="#ff8a00"/>
<circle cx="186.0" cy="284.5" r="3.4" fill="#ff9e00"/>
<circle cx="71.0" cy="247.0" r="3.4" fill="#f50000"/>
<circle cx="75.8" cy="247.0" r="3.4" fill="#f50000"/>
<circle cx="80.5" cy="247.5" r="3.4" fill="#f50000"/>
<circle cx="85.2" cy="248.3" r="3.4" fill="#f50000"/>
<circle cx="89.9" cy="249.2" r="3.4" fill="#f50000"/>
<circle cx="94.5" cy="250.5" r="3.4" fill="#f50000"/>
<circle cx="99.0" cy="252.2" r="3.4" fill="#f50000"/>
<circle cx="62.0" cy="237.5" r="3.4" fill="#f50000"/>
<circle cx="66.4" cy="238.1" r="3.4" fill="#f50000"/>
<circle cx="70.8" cy="238.7" r="3.4" fill="#f50000"/>
<circle cx="75.1" cy="239.9" r="3.4" fill="#f50000"/>
<circle cx="79.4" cy="241.1" r="3.4" fill="#f50000"/>
<circle cx="83.7" cy="242.4" r="3.4" fill="#f50000"/>
<circle cx="87.9" cy="243.7" r="3.4" fill="#f50000"/>
<circle cx="92.1" cy="245.4" r="3.4" fill="#f50000"/>
<circle cx="96.1" cy="247.1" r="3.4" fill="#f50000"/>
<circle cx="100.2" cy="249.0" r="3.4" fill="#f50000"/>
<circle cx="106.0" cy="255.4" r="3.4" fill="#ff0f00"/>
<circle cx="110.3" cy="252.2" r="3.4" fill="#ff0f00"/>
<circle cx="113.5" cy="258.5" r="3.4" fill="#ff1a00"/>
<circle cx="121.0" cy="256.0" r="3.4" fill="#ff2400"/>
<circle cx="121.0" cy="260.8" r="3.4" fill="#ff2400"/>
<circle cx="101.0" cy="250.0" r="3.4" fill="#f50000"/>
<circle cx="104.0" cy="256.0" r="3.4" fill="#ff0500"/>
<circle cx="109.0" cy="253.0" r="3.4" fill="#ff0f00"/>
<circle cx="111.0" cy="268.0" r="3.4" fill="#ff1a00"/>
<circle cx="131.0" cy="263.0" r="3.4" fill="#ff2e00"/>
<circle cx="136.0" cy="261.0" r="3.4" fill="#ff2e00"/>
<circle cx="140.0" cy="266.0" r="3.4" fill="#ff2e00"/>
<circle cx="141.0" cy="269.0" r="3.4" fill="#ff2e00"/>
<circle cx="152.0" cy="264.0" r="3.4" fill="#ff5700"/>
<circle cx="152.0" cy="268.0" r="3.4" fill="#ff5700"/>
<circle cx="153.0" cy="272.0" r="3.4" fill="#ff0f00"/>
<circle cx="163.0" cy="272.0" r="3.4" fill="#ff6100"/>
<circle cx="165.0" cy="268.0" r="3.4" fill="#ff6100"/>
<circle cx="161.6" cy="272.0" r="3.4" fill="#ff5700"/>
<circle cx="150.0" cy="277.4" r="3.4" fill="#ff5700"/>
<circle cx="157.8" cy="280.6" r="3.4" fill="#ff6100"/>
<circle cx="169.4" cy="268.6" r="3.4" fill="#ff6100"/>
<circle cx="180.3" cy="266.0" r="3.4" fill="#ff3800"/>
<circle cx="197.0" cy="262.3" r="3.4" fill="#ff8500"/>
<circle cx="214.3" cy="258.7" r="3.4" fill="#ffbd00"/>
<circle cx="228.2" cy="255.0" r="3.4" fill="#d1ff2e"/>
<circle cx="189.7" cy="271.7" r="3.4" fill="#ff9400"/>
<circle cx="188.3" cy="276.8" r="3.4" fill="#ffa300"/>
<circle cx="175.2" cy="274.6" r="3.4" fill="#ff7500"/>
<circle cx="210.0" cy="275.4" r="3.4" fill="#ffd100"/>
<circle cx="200.6" cy="279.0" r="3.4" fill="#ffd100"/>
<circle cx="168.0" cy="282.0" r="3.4" fill="#ff6b00"/>
<circle cx="176.6" cy="283.4" r="3.4" fill="#ff8a00"/>
<circle cx="185.4" cy="284.8" r="3.4" fill="#ff9e00"/>
<circle cx="194.0" cy="285.5" r="3.4" fill="#ffbd00"/>
<circle cx="213.0" cy="282.0" r="3.4" fill="#e5ff1a"/>
<circle cx="226.0" cy="278.3" r="3.4" fill="#b3ff4c"/>
<circle cx="224.3" cy="281.0" r="3.4" fill="#a8ff57"/>
<circle cx="222.5" cy="283.4" r="3.4" fill="#9eff61"/>
<circle cx="198.7" cy="283.6" r="3.4" fill="#4dffb2"/>
<circle cx="213.0" cy="286.3" r="3.4" fill="#80ff80"/>
<circle cx="218.8" cy="286.3" r="3.4" fill="#61ff9e"/>
<circle cx="215.2" cy="289.2" r="3.4" fill="#4dffb2"/>
<circle cx="216.8" cy="291.4" r="3.4" fill="#4dffb2"/>
<circle cx="218.3" cy="293.6" r="3.4" fill="#4dffb2"/>
<circle cx="212.6" cy="292.0" r="3.4" fill="#61ff9e"/>
<circle cx="220.5" cy="296.5" r="3.4" fill="#94ff6b"/>
<circle cx="211.5" cy="294.6" r="3.4" fill="#80ff80"/>
<circle cx="201.4" cy="289.2" r="3.4" fill="#fffa00"/>
<circle cx="203.5" cy="287.7" r="3.4" fill="#fffa00"/>
<circle cx="205.7" cy="290.6" r="3.4" fill="#fffa00"/>
<circle cx="208.5" cy="291.0" r="3.4" fill="#faff05"/>
<circle cx="191.2" cy="294.3" r="3.4" fill="#ffd100"/>
<circle cx="196.3" cy="297.2" r="3.4" fill="#d1ff2e"/>
<circle cx="206.5" cy="298.0" r="3.4" fill="#c7ff38"/>
<circle cx="176.0" cy="295.0" r="3.4" fill="#ffb300"/>
<circle cx="178.8" cy="298.0" r="3.4" fill="#ffb300"/>
<circle cx="178.0" cy="289.2" r="3.4" fill="#00b2ff"/>
<circle cx="182.5" cy="291.4" r="3.4" fill="#00bdff"/>
<circle cx="57.5" cy="224.2" r="3.4" fill="#000080"/>
<circle cx="65.6" cy="224.3" r="3.4" fill="#000094"/>
<circle cx="80.0" cy="225.5" r="3.4" fill="#0000c7"/>
<circle cx="97.3" cy="226.8" r="3.4" fill="#0000f0"/>
<circle cx="116.5" cy="228.9" r="3.4" fill="#0019ff"/>
<circle cx="135.6" cy="231.0" r="3.4" fill="#004dff"/>
<circle cx="154.8" cy="233.3" r="3.4" fill="#0080ff"/>
<circle cx="172.8" cy="236.2" r="3.4" fill="#00a8ff"/>
<circle cx="191.0" cy="239.4" r="3.4" fill="#00d1ff"/>
<circle cx="208.7" cy="243.0" r="3.4" fill="#00faff"/>
<circle cx="224.0" cy="246.9" r="3.4" fill="#42ffbd"/>
<circle cx="232.3" cy="250.3" r="3.4" fill="#94ff6b"/>
<circle cx="88.5" cy="312.0" r="3.4" fill="#ff9e00"/>
<circle cx="85.5" cy="311.6" r="3.4" fill="#faff05"/>
<circle cx="81.6" cy="312.0" r="3.4" fill="#2effd1"/>
<circle cx="72.0" cy="312.6" r="3.4" fill="#00f0ff"/>
<circle cx="63.0" cy="313.4" r="3.4" fill="#009eff"/>
<circle cx="56.0" cy="313.8" r="3.4" fill="#004dff"/>
<circle cx="42.0" cy="314.4" r="3.4" fill="#0000d1"/>
<circle cx="44.0" cy="314.3" r="3.4" fill="#0000d5"/>
<circle cx="46.0" cy="314.2" r="3.4" fill="#0000d9"/>
<circle cx="48.0" cy="314.2" r="3.4" fill="#0000dd"/>
<circle cx="50.0" cy="314.1" r="3.4" fill="#0000e1"/>
<circle cx="52.0" cy="314.0" r="3.4" fill="#0000e6"/>
<circle cx="308.0" cy="313.8" r="3.4" fill="#000094"/>
<circle cx="311.0" cy="313.8" r="3.4" fill="#00009c"/>
<circle cx="314.0" cy="313.8" r="3.4" fill="#0000a3"/>
<circle cx="317.0" cy="313.8" r="3.4" fill="#0000ab"/>
<circle cx="320.0" cy="313.8" r="3.4" fill="#0000b2"/>
<circle cx="327.0" cy="313.7" r="3.4" fill="#0000d1"/>
<circle cx="336.0" cy="313.6" r="3.4" fill="#0000fa"/>
<circle cx="348.0" cy="313.0" r="3.4" fill="#009eff"/>
<circle cx="363.0" cy="312.4" r="3.4" fill="#00f0ff"/>
<circle cx="380.6" cy="311.6" r="3.4" fill="#38ffc7"/>
<circle cx="398.6" cy="310.4" r="3.4" fill="#bdff42"/>
<circle cx="416.0" cy="309.6" r="3.4" fill="#ffbd00"/>
<circle cx="430.0" cy="309.0" r="3.4" fill="#ff7500"/>
<circle cx="430.0" cy="308.0" r="3.4" fill="#ff6100"/>
<circle cx="434.4" cy="308.0" r="3.4" fill="#ff4f00"/>
<circle cx="438.7" cy="308.0" r="3.4" fill="#ff3d00"/>
<circle cx="443.1" cy="307.8" r="3.4" fill="#ff2a00"/>
<circle cx="447.5" cy="307.6" r="3.4" fill="#ff1700"/>
<circle cx="451.8" cy="307.2" r="3.4" fill="#ff0100"/>
<circle cx="456.2" cy="307.0" r="3.4" fill="#f10000"/>
<circle cx="460.6" cy="307.0" r="3.4" fill="#e80000"/>
<circle cx="464.9" cy="307.4" r="3.4" fill="#da0000"/>
<circle cx="469.3" cy="307.9" r="3.4" fill="#ca0000"/>
<circle cx="473.6" cy="308.0" r="3.4" fill="#c00000"/>
<circle cx="478.0" cy="308.0" r="3.4" fill="#b80000"/>
<circle cx="436.0" cy="298.0" r="3.4" fill="#ff4c00"/>
<circle cx="440.4" cy="298.7" r="3.4" fill="#ff3d00"/>
<circle cx="444.9" cy="298.5" r="3.4" fill="#ff2900"/>
<circle cx="449.3" cy="298.1" r="3.4" fill="#ff1500"/>
<circle cx="453.8" cy="298.6" r="3.4" fill="#ff0500"/>
<circle cx="458.3" cy="299.1" r="3.4" fill="#f40000"/>
<circle cx="462.7" cy="300.0" r="3.4" fill="#ed0000"/>
<circle cx="467.1" cy="301.0" r="3.4" fill="#e50000"/>
<circle cx="471.5" cy="301.7" r="3.4" fill="#d60000"/>
<circle cx="476.0" cy="302.3" r="3.4" fill="#c70000"/>
<circle cx="434.0" cy="298.0" r="3.4" fill="#ff4c00"/>
<circle cx="425.0" cy="297.0" r="3.4" fill="#ff5700"/>
<circle cx="415.0" cy="295.0" r="3.4" fill="#ff8000"/>
<circle cx="407.0" cy="297.0" r="3.4" fill="#ffb300"/>
<circle cx="456.0" cy="303.0" r="3.4" fill="#ff0500"/>
<circle cx="463.0" cy="303.5" r="3.4" fill="#fa0000"/>
<circle cx="470.0" cy="304.5" r="3.4" fill="#e50000"/>
<circle cx="476.0" cy="302.5" r="3.4" fill="#b80000"/>
<circle cx="478.2" cy="302.6" r="3.4" fill="#b60000"/>
<circle cx="480.3" cy="302.7" r="3.4" fill="#b40000"/>
<circle cx="482.5" cy="302.7" r="3.4" fill="#b30000"/>
<circle cx="484.7" cy="302.8" r="3.4" fill="#b10000"/>
<circle cx="486.8" cy="302.9" r="3.4" fill="#b00000"/>
<circle cx="489.0" cy="303.0" r="3.4" fill="#ae0000"/>
<circle cx="491.2" cy="303.0" r="3.4" fill="#ad0000"/>
<circle cx="493.3" cy="303.1" r="3.4" fill="#ad0000"/>
<circle cx="495.5" cy="303.1" r="3.4" fill="#ad0000"/>
<circle cx="497.7" cy="303.2" r="3.4" fill="#ad0000"/>
<circle cx="499.8" cy="303.2" r="3.4" fill="#ad0000"/>
<circle cx="502.0" cy="303.3" r="3.4" fill="#ad0000"/>
<circle cx="504.2" cy="303.4" r="3.4" fill="#ad0000"/>
<circle cx="506.3" cy="303.4" r="3.4" fill="#ad0000"/>
<circle cx="508.5" cy="303.5" r="3.4" fill="#ad0000"/>
<circle cx="510.7" cy="303.5" r="3.4" fill="#ad0000"/>
<circle cx="512.8" cy="303.7" r="3.4" fill="#ad0000"/>
<circle cx="515.0" cy="303.8" r="3.4" fill="#ad0000"/>
<circle cx="517.2" cy="303.9" r="3.4" fill="#ad0000"/>
<circle cx="519.3" cy="304.0" r="3.4" fill="#ad0000"/>
<circle cx="521.5" cy="304.1" r="3.4" fill="#ad0000"/>
<circle cx="523.7" cy="304.3" r="3.4" fill="#ad0000"/>
<circle cx="525.8" cy="304.4" r="3.4" fill="#ad0000"/>
<circle cx="528.0" cy="304.5" r="3.4" fill="#ad0000"/>
<circle cx="476.0" cy="305.5" r="3.4" fill="#b80000"/>
<circle cx="478.2" cy="305.6" r="3.4" fill="#b60000"/>
<circle cx="480.3" cy="305.7" r="3.4" fill="#b40000"/>
<circle cx="482.5" cy="305.7" r="3.4" fill="#b30000"/>
<circle cx="484.7" cy="305.8" r="3.4" fill="#b10000"/>
<circle cx="486.8" cy="305.9" r="3.4" fill="#b00000"/>
<circle cx="489.0" cy="306.0" r="3.4" fill="#ae0000"/>
<circle cx="491.2" cy="306.0" r="3.4" fill="#ad0000"/>
<circle cx="493.3" cy="306.1" r="3.4" fill="#ad0000"/>
<circle cx="495.5" cy="306.1" r="3.4" fill="#ad0000"/>
<circle cx="497.7" cy="306.2" r="3.4" fill="#ad0000"/>
<circle cx="499.8" cy="306.2" r="3.4" fill="#ad0000"/>
<circle cx="502.0" cy="306.3" r="3.4" fill="#ad0000"/>
<circle cx="504.2" cy="306.4" r="3.4" fill="#ad0000"/>
<circle cx="506.3" cy="306.4" r="3.4" fill="#ad0000"/>
<circle cx="508.5" cy="306.5" r="3.4" fill="#ad0000"/>
<circle cx="510.7" cy="306.5" r="3.4" fill="#ad0000"/>
<circle cx="512.8" cy="306.7" r="3.4" fill="#ad0000"/>
<circle cx="515.0" cy="306.8" r="3.4" fill="#ad0000"/>
<circle cx="517.2" cy="306.9" r="3.4" fill="#ad0000"/>
<circle cx="519.3" cy="307.0" r="3.4" fill="#ad0000"/>
<circle cx="521.5" cy="307.1" r="3.4" fill="#ad0000"/>
<circle cx="523.7" cy="307.3" r="3.4" fill="#ad0000"/>
<circle cx="525.8" cy="307.4" r="3.4" fill="#ad0000"/>
<circle cx="528.0" cy="307.5" r="3.4" fill="#ad0000"/>
<circle cx="476.0" cy="308.5" r="3.4" fill="#b80000"/>
<circle cx="478.2" cy="308.6" r="3.4" fill="#b60000"/>
<circle cx="480.3" cy="308.7" r="3.4" fill="#b40000"/>
<circle cx="482.5" cy="308.7" r="3.4" fill="#b30000"/>
<circle cx="484.7" cy="308.8" r="3.4" fill="#b10000"/>
<circle cx="486.8" cy="308.9" r="3.4" fill="#b00000"/>
<circle cx="489.0" cy="309.0" r="3.4" fill="#ae0000"/>
<circle cx="491.2" cy="309.0" r="3.4" fill="#ad0000"/>
<circle cx="493.3" cy="309.1" r="3.4" fill="#ad0000"/>
<circle cx="495.5" cy="309.1" r="3.4" fill="#ad0000"/>
<circle cx="497.7" cy="309.2" r="3.4" fill="#ad0000"/>
<circle cx="499.8" cy="309.2" r="3.4" fill="#ad0000"/>
<circle cx="502.0" cy="309.3" r="3.4" fill="#ad0000"/>
<circle cx="504.2" cy="309.4" r="3.4" fill="#ad0000"/>
<circle cx="506.3" cy="309.4" r="3.4" fill="#ad0000"/>
<circle cx="508.5" cy="309.5" r="3.4" fill="#ad0000"/>
<circle cx="510.7" cy="309.5" r="3.4" fill="#ad0000"/>
<circle cx="512.8" cy="309.7" r="3.4" fill="#ad0000"/>
<circle cx="515.0" cy="309.8" r="3.4" fill="#ad0000"/>
<circle cx="517.2" cy="309.9" r="3.4" fill="#ad0000"/>
<circle cx="519.3" cy="310.0" r="3.4" fill="#ad0000"/>
<circle cx="521.5" cy="310.1" r="3.4" fill="#ad0000"/>
<circle cx="523.7" cy="310.3" r="3.4" fill="#ad0000"/>
<circle cx="525.8" cy="310.4" r="3.4" fill="#ad0000"/>
<circle cx="528.0" cy="310.5" r="3.4" fill="#ad0000"/>
<circle cx="527.0" cy="264.0" r="3.4" fill="#ad0000"/>
<circle cx="525.7" cy="265.6" r="3.4" fill="#ad0000"/>
<circle cx="524.4" cy="267.1" r="3.4" fill="#ad0000"/>
<circle cx="523.1" cy="268.7" r="3.4" fill="#ad0000"/>
<circle cx="521.8" cy="270.2" r="3.4" fill="#ad0000"/>
<circle cx="520.7" cy="271.9" r="3.4" fill="#ad0000"/>
<circle cx="519.5" cy="273.5" r="3.4" fill="#ad0000"/>
<circle cx="518.3" cy="275.2" r="3.4" fill="#ad0000"/>
<circle cx="517.1" cy="276.8" r="3.4" fill="#ad0000"/>
<circle cx="516.0" cy="278.5" r="3.4" fill="#ad0000"/>
<circle cx="514.8" cy="280.1" r="3.4" fill="#ad0000"/>
<circle cx="513.6" cy="281.7" r="3.4" fill="#ad0000"/>
<circle cx="512.4" cy="283.4" r="3.4" fill="#ad0000"/>
<circle cx="511.2" cy="285.0" r="3.4" fill="#ad0000"/>
<circle cx="509.9" cy="286.5" r="3.4" fill="#ad0000"/>
<circle cx="508.6" cy="288.1" r="3.4" fill="#ad0000"/>
<circle cx="507.3" cy="289.6" r="3.4" fill="#ad0000"/>
<circle cx="505.7" cy="290.9" r="3.4" fill="#ad0000"/>
<circle cx="504.1" cy="292.1" r="3.4" fill="#ad0000"/>
<circle cx="502.4" cy="293.3" r="3.4" fill="#ad0000"/>
<circle cx="500.8" cy="294.4" r="3.4" fill="#ad0000"/>
<circle cx="499.1" cy="295.5" r="3.4" fill="#ad0000"/>
<circle cx="497.3" cy="296.4" r="3.4" fill="#ad0000"/>
<circle cx="495.4" cy="297.3" r="3.4" fill="#ad0000"/>
<circle cx="493.6" cy="298.2" r="3.4" fill="#ad0000"/>
<circle cx="491.8" cy="299.0" r="3.4" fill="#ae0000"/>
<circle cx="489.9" cy="299.5" r="3.4" fill="#af0000"/>
<circle cx="487.9" cy="300.0" r="3.4" fill="#b00000"/>
<circle cx="485.9" cy="300.5" r="3.4" fill="#b10000"/>
<circle cx="484.0" cy="301.0" r="3.4" fill="#b30000"/>
<circle cx="482.0" cy="301.4" r="3.4" fill="#b50000"/>
<circle cx="480.0" cy="301.7" r="3.4" fill="#b80000"/>
<circle cx="478.0" cy="302.1" r="3.4" fill="#ba0000"/>
<circle cx="476.0" cy="302.4" r="3.4" fill="#bd0000"/>
<circle cx="457.0" cy="272.0" r="3.4" fill="#f50000"/>
<circle cx="465.5" cy="273.0" r="3.4" fill="#e50000"/>
<circle cx="472.5" cy="274.0" r="3.4" fill="#db0000"/>
<circle cx="478.0" cy="274.8" r="3.4" fill="#d10000"/>
<circle cx="481.3" cy="274.9" r="3.4" fill="#cf0000"/>
<circle cx="484.6" cy="274.9" r="3.4" fill="#cd0000"/>
<circle cx="487.9" cy="275.0" r="3.4" fill="#cb0000"/>
<circle cx="491.2" cy="275.1" r="3.4" fill="#ca0000"/>
<circle cx="494.5" cy="275.2" r="3.4" fill="#c80000"/>
<circle cx="497.8" cy="274.9" r="3.4" fill="#c40000"/>
<circle cx="501.1" cy="274.5" r="3.4" fill="#bf0000"/>
<circle cx="504.4" cy="274.0" r="3.4" fill="#ba0000"/>
<circle cx="507.7" cy="273.7" r="3.4" fill="#b40000"/>
<circle cx="511.0" cy="273.6" r="3.4" fill="#ad0000"/>
<circle cx="511.0" cy="273.6" r="3.4" fill="#ad0000"/>
<circle cx="512.1" cy="275.3" r="3.4" fill="#ad0000"/>
<circle cx="513.1" cy="277.0" r="3.4" fill="#ad0000"/>
<circle cx="514.2" cy="278.7" r="3.4" fill="#ad0000"/>
<circle cx="515.1" cy="280.4" r="3.4" fill="#ad0000"/>
<circle cx="515.8" cy="282.3" r="3.4" fill="#ad0000"/>
<circle cx="516.4" cy="284.2" r="3.4" fill="#ad0000"/>
<circle cx="517.0" cy="286.1" r="3.4" fill="#ad0000"/>
<circle cx="517.3" cy="288.1" r="3.4" fill="#ad0000"/>
<circle cx="517.7" cy="290.0" r="3.4" fill="#ad0000"/>
<circle cx="518.0" cy="292.0" r="3.4" fill="#ad0000"/>
<circle cx="518.6" cy="293.9" r="3.4" fill="#ad0000"/>
<circle cx="519.3" cy="295.8" r="3.4" fill="#ad0000"/>
<circle cx="519.9" cy="297.7" r="3.4" fill="#ad0000"/>
<circle cx="521.2" cy="299.2" r="3.4" fill="#ad0000"/>
<circle cx="522.6" cy="300.6" r="3.4" fill="#ad0000"/>
<circle cx="524.0" cy="302.0" r="3.4" fill="#ad0000"/>
<circle cx="530.0" cy="302.0" r="3.4" fill="#f50000"/>
<circle cx="531.5" cy="306.5" r="3.4" fill="#e50000"/>
<circle cx="527.0" cy="313.0" r="3.4" fill="#f50000"/>
<circle cx="411.3" cy="288.7" r="3.4" fill="#ffc700"/>
<circle cx="415.4" cy="286.6" r="3.4" fill="#ffb700"/>
<circle cx="419.4" cy="284.4" r="3.4" fill="#ffa400"/>
<circle cx="423.4" cy="282.2" r="3.4" fill="#ff9000"/>
<circle cx="427.4" cy="279.9" r="3.4" fill="#ff7b00"/>
<circle cx="431.3" cy="277.7" r="3.4" fill="#ff6700"/>
<circle cx="435.4" cy="275.6" r="3.4" fill="#ff5900"/>
<circle cx="439.5" cy="273.6" r="3.4" fill="#ff4f00"/>
<circle cx="443.6" cy="271.5" r="3.4" fill="#ff4000"/>
<circle cx="447.6" cy="269.5" r="3.4" fill="#ff3100"/>
<circle cx="451.5" cy="267.2" r="3.4" fill="#ff2300"/>
<circle cx="455.4" cy="264.7" r="3.4" fill="#ff1500"/>
<circle cx="459.1" cy="262.1" r="3.4" fill="#ff0800"/>
<circle cx="462.7" cy="259.3" r="3.4" fill="#fb0000"/>
<circle cx="466.1" cy="256.2" r="3.4" fill="#f50000"/>
<circle cx="469.3" cy="253.0" r="3.4" fill="#f50000"/>
<circle cx="472.0" cy="249.4" r="3.4" fill="#f50000"/>
<circle cx="474.2" cy="245.4" r="3.4" fill="#f50000"/>
<circle cx="476.6" cy="241.5" r="3.4" fill="#f50000"/>
<circle cx="479.0" cy="237.6" r="3.4" fill="#f50000"/>
<circle cx="406.7" cy="279.3" r="3.4" fill="#ffc700"/>
<circle cx="410.6" cy="277.4" r="3.4" fill="#ffb600"/>
<circle cx="414.5" cy="275.2" r="3.4" fill="#ffa300"/>
<circle cx="418.4" cy="273.1" r="3.4" fill="#ff8f00"/>
<circle cx="422.3" cy="270.9" r="3.4" fill="#ff7b00"/>
<circle cx="426.2" cy="268.7" r="3.4" fill="#ff6800"/>
<circle cx="430.1" cy="266.6" r="3.4" fill="#ff5b00"/>
<circle cx="434.1" cy="264.7" r="3.4" fill="#ff5100"/>
<circle cx="438.0" cy="262.7" r="3.4" fill="#ff4300"/>
<circle cx="442.0" cy="260.7" r="3.4" fill="#ff3400"/>
<circle cx="445.8" cy="258.5" r="3.4" fill="#ff2400"/>
<circle cx="449.6" cy="256.1" r="3.4" fill="#ff1500"/>
<circle cx="453.2" cy="253.5" r="3.4" fill="#ff0700"/>
<circle cx="456.7" cy="250.8" r="3.4" fill="#f80000"/>
<circle cx="459.9" cy="247.7" r="3.4" fill="#f50000"/>
<circle cx="463.1" cy="244.6" r="3.4" fill="#f50000"/>
<circle cx="466.7" cy="242.0" r="3.4" fill="#f50000"/>
<circle cx="470.4" cy="239.7" r="3.4" fill="#f50000"/>
<circle cx="474.6" cy="238.2" r="3.4" fill="#f50000"/>
<circle cx="479.0" cy="237.6" r="3.4" fill="#f50000"/>
<circle cx="409.0" cy="284.0" r="3.4" fill="#ffc700"/>
<circle cx="413.0" cy="282.0" r="3.4" fill="#ffb700"/>
<circle cx="416.9" cy="279.9" r="3.4" fill="#ffa400"/>
<circle cx="420.8" cy="277.7" r="3.4" fill="#ff9000"/>
<circle cx="424.7" cy="275.5" r="3.4" fill="#ff7c00"/>
<circle cx="428.5" cy="273.3" r="3.4" fill="#ff6800"/>
<circle cx="432.5" cy="271.3" r="3.4" fill="#ff5b00"/>
<circle cx="436.5" cy="269.3" r="3.4" fill="#ff5000"/>
<circle cx="440.5" cy="267.3" r="3.4" fill="#ff4300"/>
<circle cx="444.4" cy="265.3" r="3.4" fill="#ff3400"/>
<circle cx="448.3" cy="263.1" r="3.4" fill="#ff2500"/>
<circle cx="452.1" cy="260.7" r="3.4" fill="#ff1700"/>
<circle cx="455.7" cy="258.1" r="3.4" fill="#ff0900"/>
<circle cx="459.2" cy="255.4" r="3.4" fill="#fb0000"/>
<circle cx="462.6" cy="252.4" r="3.4" fill="#f50000"/>
<circle cx="465.7" cy="249.3" r="3.4" fill="#f50000"/>
<circle cx="468.8" cy="246.1" r="3.4" fill="#f50000"/>
<circle cx="471.8" cy="242.8" r="3.4" fill="#f50000"/>
<circle cx="475.3" cy="240.0" r="3.4" fill="#f50000"/>
<circle cx="479.0" cy="237.6" r="3.4" fill="#f50000"/>
<circle cx="350.0" cy="290.0" r="3.4" fill="#00bdff"/>
<circle cx="354.0" cy="287.0" r="3.4" fill="#00dbff"/>
<circle cx="361.0" cy="286.0" r="3.4" fill="#00faff"/>
<circle cx="363.0" cy="293.0" r="3.4" fill="#1affe5"/>
<circle cx="367.0" cy="287.0" r="3.4" fill="#1affe5"/>
<circle cx="373.0" cy="283.0" r="3.4" fill="#38ffc7"/>
<circle cx="375.0" cy="288.0" r="3.4" fill="#42ffbd"/>
<circle cx="377.0" cy="295.0" r="3.4" fill="#61ff9e"/>
<circle cx="371.0" cy="293.0" r="3.4" fill="#38ffc7"/>
<circle cx="384.0" cy="281.0" r="3.4" fill="#6bff94"/>
<circle cx="383.0" cy="286.0" r="3.4" fill="#6bff94"/>
<circle cx="390.0" cy="283.0" r="3.4" fill="#80ff80"/>
<circle cx="397.0" cy="278.0" r="3.4" fill="#bdff42"/>
<circle cx="398.0" cy="283.0" r="3.4" fill="#bdff42"/>
<circle cx="391.0" cy="296.0" r="3.4" fill="#b3ff4c"/>
<circle cx="399.0" cy="290.0" r="3.4" fill="#faff05"/>
<circle cx="402.0" cy="292.0" r="3.4" fill="#fffa00"/>
<circle cx="407.0" cy="297.0" r="3.4" fill="#ffc700"/>
<circle cx="409.0" cy="276.0" r="3.4" fill="#ffdb00"/>
<circle cx="406.0" cy="282.0" r="3.4" fill="#ffdb00"/>
<circle cx="410.0" cy="287.0" r="3.4" fill="#ffb300"/>
<circle cx="415.0" cy="295.0" r="3.4" fill="#ff9400"/>
<circle cx="416.0" cy="277.0" r="3.4" fill="#ffb300"/>
<circle cx="418.0" cy="284.0" r="3.4" fill="#ff9e00"/>
<circle cx="423.0" cy="272.0" r="3.4" fill="#ff8a00"/>
<circle cx="423.0" cy="280.0" r="3.4" fill="#ff8000"/>
<circle cx="425.0" cy="297.0" r="3.4" fill="#ff6100"/>
<circle cx="430.0" cy="268.0" r="3.4" fill="#ff6b00"/>
<circle cx="430.0" cy="277.0" r="3.4" fill="#ff6b00"/>
<circle cx="438.0" cy="265.0" r="3.4" fill="#ff5700"/>
<circle cx="438.0" cy="274.0" r="3.4" fill="#ff4c00"/>
<circle cx="412.0" cy="282.0" r="3.4" fill="#ffbd00"/>
<circle cx="404.0" cy="286.0" r="3.4" fill="#ffe500"/>
<circle cx="310.2" cy="224.1" r="3.4" fill="#000080"/>
<circle cx="312.0" cy="224.7" r="3.4" fill="#000080"/>
<circle cx="314.0" cy="225.4" r="3.4" fill="#00008a"/>
<circle cx="316.0" cy="226.0" r="3.4" fill="#000094"/>
<circle cx="317.8" cy="226.6" r="3.4" fill="#00009e"/>
<circle cx="319.7" cy="227.3" r="3.4" fill="#0000a8"/>
<circle cx="321.6" cy="228.0" r="3.4" fill="#0000b2"/>
<circle cx="323.5" cy="228.8" r="3.4" fill="#0000c7"/>
<circle cx="325.4" cy="229.7" r="3.4" fill="#0000d1"/>
<circle cx="327.3" cy="230.7" r="3.4" fill="#0000e6"/>
<circle cx="329.3" cy="231.7" r="3.4" fill="#0000fa"/>
<circle cx="334.4" cy="234.3" r="3.4" fill="#002eff"/>
<circle cx="340.7" cy="236.8" r="3.4" fill="#0075ff"/>
<circle cx="349.0" cy="239.4" r="3.4" fill="#00bdff"/>
<circle cx="358.5" cy="243.2" r="3.4" fill="#00faff"/>
<circle cx="370.0" cy="247.0" r="3.4" fill="#2effd1"/>
<circle cx="382.2" cy="250.8" r="3.4" fill="#80ff80"/>
<circle cx="395.4" cy="254.6" r="3.4" fill="#d1ff2e"/>
<circle cx="409.4" cy="259.0" r="3.4" fill="#ffbd00"/>
<circle cx="422.0" cy="263.0" r="3.4" fill="#ff8000"/>
<circle cx="432.0" cy="266.0" r="3.4" fill="#ff6100"/>
</g>

<!-- tick labels -->
<g class="tk" text-anchor="end">
<text x="36.5" y="72.8">0.3</text>
<text x="36.5" y="102.6">0.2</text>
<text x="36.5" y="131">0.1</text>
<text x="36.5" y="160.8">0</text>
<text x="36.5" y="229.6">0.3</text>
<text x="36.5" y="260">0.2</text>
<text x="36.5" y="290.2">0.1</text>
<text x="36.5" y="319.6">0</text>
</g>
<g class="tk" text-anchor="middle">
<text x="96.9" y="173">20</text>
<text x="153.6" y="173">40</text>
<text x="209.7" y="173">60</text>
<text x="266.5" y="173">80</text>
<text x="307.6" y="172.7">0</text>
<text x="353" y="172.7">1</text>
<text x="398" y="172.7">2</text>
<text x="443" y="172.7">3</text>
<text x="488.6" y="172.7">4</text>
<text x="534.2" y="172.7">5</text>
<text x="84.4" y="331">0.005</text>
<text x="131" y="331">0.01</text>
<text x="176" y="331">0.015</text>
<text x="221.9" y="331">0.02</text>
<text x="267.5" y="331">0.025</text>
<text x="307.5" y="330.6">0</text>
<text x="361.9" y="330.6">0.02</text>
<text x="418.6" y="330.6">0.04</text>
<text x="475.8" y="330.6">0.06</text>
<text x="532.5" y="330.6">0.08</text>
</g>
<!-- axis labels -->
<g class="lb" text-anchor="middle">
<text x="154.4" y="187.9" style="font-size:12.6px">SMD (micrometre)</text>
<text x="420.7" y="188.6">OH mass fraction</text>
<text x="155.4" y="346.8">CO mass fraction</text>
<text x="422.3" y="347">CO2 mass fraction</text>
<text transform="translate(17.6 103.8) rotate(-90)">Mixture fraction</text>
<text transform="translate(17.9 262.8) rotate(-90)">Mixture fraction</text>
</g>
<text x="503" y="191.8" style="font-size:12px;font-weight:normal;stroke:none">×</text>
<text x="512.6" y="191.6" style="font-size:10.5px">10</text>
<text x="525.4" y="187" style="font-size:7.5px">-4</text>
</svg>
</body>
</html>
